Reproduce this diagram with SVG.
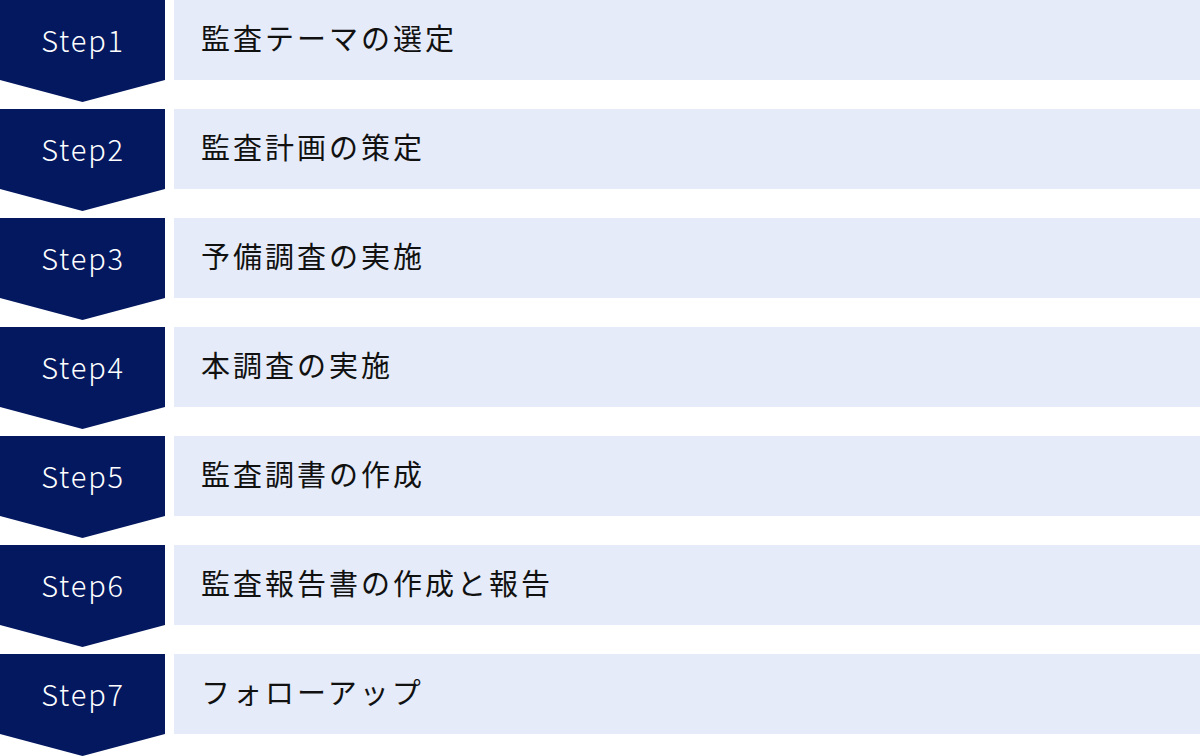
<svg xmlns="http://www.w3.org/2000/svg" width="1200" height="756" viewBox="0 0 1200 756">
<style>
.step{fill:#04185f}
.box{fill:#e5ebf8}
.st{font-family:"Noto Sans CJK JP","Noto Sans",sans-serif;font-size:29px;font-weight:300;fill:#ffffff;text-anchor:middle;letter-spacing:1.8px}
.lb{font-family:"Noto Sans CJK JP","Noto Sans",sans-serif;font-size:29px;font-weight:400;fill:#111111;letter-spacing:3px}
</style>
<defs>
<path id="chev" d="M0,0H165V80L82.5,102L0,80Z"/>
</defs>
<g id="connectors"/>
<g id="step1" transform="translate(0,0)"><use href="#chev" class="step"/><text class="st" x="83" y="52">Step1</text><rect class="box" x="174" y="0" width="1026" height="80"/><text class="lb" x="201" y="50">監査テーマの選定</text></g>
<g id="step2" transform="translate(0,109)"><use href="#chev" class="step"/><text class="st" x="83" y="52">Step2</text><rect class="box" x="174" y="0" width="1026" height="80"/><text class="lb" x="201" y="50">監査計画の策定</text></g>
<g id="step3" transform="translate(0,218)"><use href="#chev" class="step"/><text class="st" x="83" y="52">Step3</text><rect class="box" x="174" y="0" width="1026" height="80"/><text class="lb" x="201" y="50">予備調査の実施</text></g>
<g id="step4" transform="translate(0,327)"><use href="#chev" class="step"/><text class="st" x="83" y="52">Step4</text><rect class="box" x="174" y="0" width="1026" height="80"/><text class="lb" x="201" y="50">本調査の実施</text></g>
<g id="step5" transform="translate(0,436)"><use href="#chev" class="step"/><text class="st" x="83" y="52">Step5</text><rect class="box" x="174" y="0" width="1026" height="80"/><text class="lb" x="201" y="50">監査調書の作成</text></g>
<g id="step6" transform="translate(0,545)"><use href="#chev" class="step"/><text class="st" x="83" y="52">Step6</text><rect class="box" x="174" y="0" width="1026" height="80"/><text class="lb" x="201" y="50">監査報告書の作成と報告</text></g>
<g id="step7" transform="translate(0,654)"><use href="#chev" class="step"/><text class="st" x="83" y="52">Step7</text><rect class="box" x="174" y="0" width="1026" height="80"/><text class="lb" x="201" y="50">フォローアップ</text></g>
</svg>
